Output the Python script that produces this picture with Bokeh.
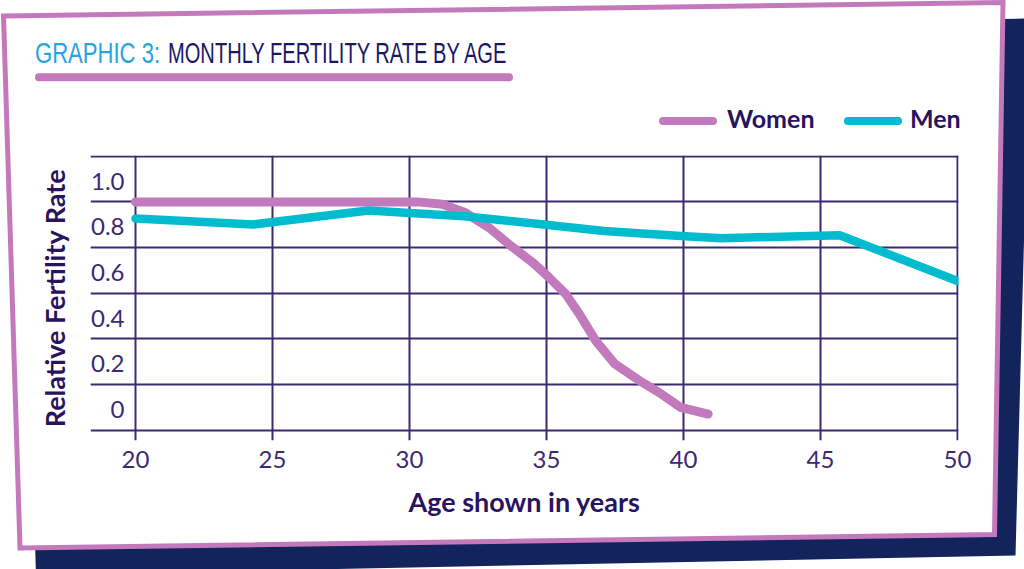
import base64
from bokeh.plotting import figure
from bokeh.models import FixedTicker, Range1d, Div
from bokeh.embed import file_html
from bokeh.resources import INLINE

# ---------------- data ----------------
women_age = [20, 30.3, 31.2, 32.0, 32.9, 33.7, 34.5, 35.1, 35.7, 36.2, 36.8, 37.5, 38.4, 39.1, 39.9, 40.9]
women_rate = [1.0, 1.0, 0.99, 0.955, 0.887, 0.807, 0.734, 0.668, 0.596, 0.508, 0.391, 0.289, 0.216, 0.165, 0.099, 0.07]

men_age = [20, 24.3, 28.5, 32.0, 34.9, 37.1, 39.9, 41.4, 45.7, 50]
men_rate = [0.927, 0.901, 0.962, 0.937, 0.901, 0.872, 0.85, 0.841, 0.854, 0.653]

x_ticks = [20, 25, 30, 35, 40, 45, 50]
y_grid = [0, 0.2, 0.4, 0.6, 0.8, 1.0, 1.2]
y_tick_values = [0, 0.2, 0.4, 0.6, 0.8, 1.0]
y_tick_labels = ["0", "0.2", "0.4", "0.6", "0.8", "1.0"]
y_label_shift = 0.09  # labels sit inside the band above each value

title_part1 = "GRAPHIC 3:"
title_part2 = "MONTHLY FERTILITY RATE BY AGE"
x_title = "Age shown in years"
y_title = "Relative Fertility Rate"
series_names = ["Women", "Men"]

# ---------------- colours ----------------
C_WOMEN = "#c27abd"
C_MEN = "#00bcce"
C_GRID = "#3b2a73"
C_TICK = "#3b2a73"
C_LABEL = "#28135e"
C_BORDER = "#c579bd"
C_SHADOW = "#13235b"
C_TBLUE = "#2aa2dc"
C_TNAVY = "#1b1766"
series_colors = [C_WOMEN, C_MEN]

# ---------------- page layout (pixels) ----------------
PW, PH = 1024, 569
FL, FR, FT, FB = 90, 958, 155, 440  # chart frame edges on the page
X0 = 20 - (135 - FL) / 27.4
X1 = X0 + (FR - FL) / 27.4
Y0 = -(FB - 429.5) / 228.5
Y1 = (429.5 - FT) / 228.5 + 0.002

# card, shadow and title underline (decoration, behind everything)
svg = (
    f'<svg xmlns="http://www.w3.org/2000/svg" width="{PW}" height="{PH}" viewBox="0 0 {PW} {PH}">'
    f'<polygon points="19.5,32 1030,18.5 1015.5,555.5 36,575" fill="{C_SHADOW}"/>'
    f'<polygon points="3.5,16 1003,2.5 994.5,534.5 20,548" fill="#ffffff" '
    f'stroke="{C_BORDER}" stroke-width="5"/>'
    f'<rect x="35" y="73.2" width="478" height="8" rx="4" ry="4" fill="{C_BORDER}"/>'
    '</svg>'
)
bg = base64.b64encode(svg.encode()).decode()

p = figure(width=PW, height=PH, x_range=Range1d(X0, X1), y_range=Range1d(Y0, Y1),
           output_backend="svg", toolbar_location=None,
           min_border_left=FL, min_border_right=PW - FR,
           min_border_top=FT, min_border_bottom=PH - FB,
           outline_line_color=None, background_fill_color=None,
           border_fill_color=None,
           styles={"background-image": f"url('data:image/svg+xml;base64,{bg}')",
                   "background-repeat": "no-repeat",
                   "background-size": f"{PW}px {PH}px",
                   "background-position": "0 0"})

# ---------------- grid & axes ----------------
p.xgrid.ticker = FixedTicker(ticks=x_ticks)
p.ygrid.ticker = FixedTicker(ticks=y_grid)
for g in (p.xgrid, p.ygrid):
    g.grid_line_color = C_GRID
    g.grid_line_width = 2

p.xaxis.ticker = FixedTicker(ticks=x_ticks)
y_pos = [round(v + y_label_shift, 3) for v in y_tick_values]
p.yaxis.ticker = FixedTicker(ticks=y_pos)
p.yaxis.major_label_overrides = {k: lab for k, lab in zip(y_pos, y_tick_labels)}

for ax in (p.xaxis, p.yaxis):
    ax.axis_line_color = None
    ax.major_tick_line_color = None
    ax.minor_tick_line_color = None
    ax.major_tick_out = 0
    ax.major_tick_in = 0
    ax.major_label_text_font = "Lato"
    ax.major_label_text_font_size = "24px"
    ax.major_label_text_color = C_TICK
    ax.axis_label_text_font = "Lato"
    ax.axis_label_text_font_style = "bold"
    ax.axis_label_text_font_size = "27px"
    ax.axis_label_text_color = C_LABEL

p.xaxis.axis_label = x_title
p.yaxis.axis_label = y_title
p.yaxis.major_label_standoff = -34
p.yaxis.axis_label_standoff = 17
p.xaxis.major_label_standoff = 10
p.xaxis.axis_label_standoff = 14

# ---------------- lines ----------------
p.line(women_age, women_rate, line_color=C_WOMEN, line_width=9,
       line_cap="round", line_join="round")
p.line(men_age, men_rate, line_color=C_MEN, line_width=8.5,
       line_cap="round", line_join="round")

# ---------------- title and key (real HTML text over the top of the card) ----------------
TFONT = "font-family:'Liberation Sans',Arial,sans-serif;font-size:29px;line-height:29px;white-space:nowrap;"
LFONT = (f"font-family:Lato,sans-serif;font-weight:bold;font-size:25px;line-height:25px;"
         f"white-space:nowrap;color:{C_LABEL};")
key_swatch_left = [659, 844]
key_text_left = [727, 910]
key_html = "".join(
    f'<div style="position:absolute;left:{sl}px;top:116.5px;width:58px;height:8.5px;'
    f'border-radius:4.25px;background:{c};"></div>'
    f'<div style="position:absolute;left:{tl}px;top:106px;{LFONT}">{name}</div>'
    for sl, tl, c, name in zip(key_swatch_left, key_text_left, series_colors, series_names)
)
div_html = (
    '<div style="position:relative;width:1000px;height:140px;margin:0;padding:0;">'
    f'<div style="position:absolute;left:35px;top:38.75px;{TFONT}color:{C_TBLUE};'
    f'transform:scaleX(0.7606);transform-origin:0 0;">{title_part1}</div>'
    f'<div style="position:absolute;left:168px;top:38.75px;{TFONT}color:{C_TNAVY};'
    f'transform:scaleX(0.693);transform-origin:0 0;">{title_part2}</div>'
    + key_html +
    '</div>'
)
overlay_div = Div(text=div_html, width=1000, height=140, margin=0,
                  styles={"position": "absolute", "top": "0px", "left": "0px"})

open("out.html", "w").write(file_html([p, overlay_div], INLINE))
